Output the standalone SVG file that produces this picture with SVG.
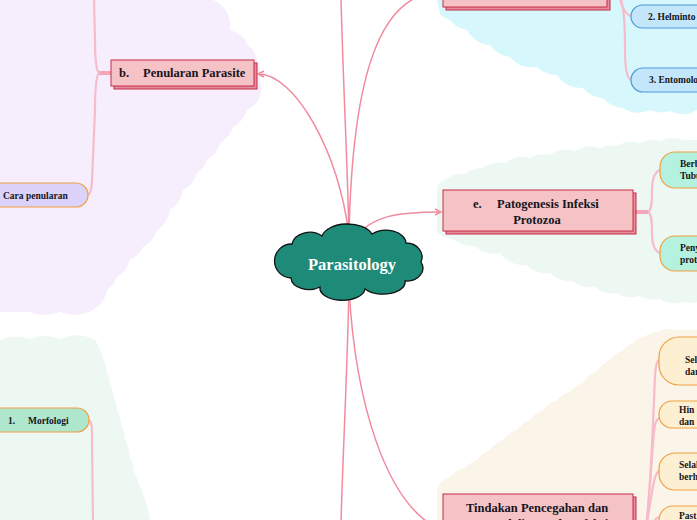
<svg xmlns="http://www.w3.org/2000/svg" width="697" height="520" viewBox="0 0 697 520">
<defs>
<style>
.bg{stroke:none}
.box{fill:#f5c3c5;stroke:#c72a46;stroke-width:1}
.shadow{fill:#e58d9b;stroke:#c72a46;stroke-width:1}
.main{fill:none;stroke:#f28a9e;stroke-width:1.5}
.stub{fill:none;stroke:#f4a6b6;stroke-width:4}
.br{fill:none;stroke:#f6bccb;stroke-width:2.2}
.t{font-family:"Liberation Serif","DejaVu Serif",serif;font-weight:bold;fill:#151520}
.bt{font-size:12.5px}
.pt{font-size:9.5px}
.orange{stroke:#f0a040;stroke-width:1.2}
</style>
<marker id="arr" viewBox="0 0 8 8" refX="7" refY="4" markerWidth="8" markerHeight="8" orient="auto" markerUnits="userSpaceOnUse">
<path d="M1,1 L7,4 L1,7" fill="none" stroke="#f28a9e" stroke-width="1.5"/>
</marker>
</defs>
<rect width="697" height="520" fill="#ffffff"/>

<g id="regions">
<path class="bg" fill="#f6eefc" d="M0,0 L213,0 A28,28 0 0 1 230,30 A28,28 0 0 1 248,45 A28,28 0 0 1 258,63 A28,28 0 0 1 260,80 A28,28 0 0 1 260,97 A28,28 0 0 1 247,110 A28,28 0 0 1 233,127 A28,28 0 0 1 220,143 A28,28 0 0 1 207,160 A28,28 0 0 1 197,173 A28,28 0 0 1 183,190 A28,28 0 0 1 170,210 A28,28 0 0 1 157,230 A28,28 0 0 1 143,247 A28,28 0 0 1 130,260 A28,28 0 0 1 117,277 A28,28 0 0 1 107,290 A28,28 0 0 1 93,310 A40,40 0 0 1 60,312 A40,40 0 0 1 30,312 L0,312 Z"/>
<path class="bg" fill="#d6f8fc" d="M437,0 L697,0 L697,110 A28,28 0 0 1 670,111 A28,28 0 0 1 650,110 A28,28 0 0 1 623,108 A28,28 0 0 1 603,98 A28,28 0 0 1 583,88 A28,28 0 0 1 557,75 A28,28 0 0 1 537,67 A28,28 0 0 1 510,57 A28,28 0 0 1 490,45 A28,28 0 0 1 467,30 A28,28 0 0 1 450,20 A28,28 0 0 1 440,14 L437,0 Z"/>
<path class="bg" fill="#eef8f3" d="M437,190 Q437,182 445,180 A28,28 0 0 1 465,174 A28,28 0 0 1 483,168 A28,28 0 0 1 505,163 A28,28 0 0 1 530,158 A28,28 0 0 1 550,155 A28,28 0 0 1 575,151 A28,28 0 0 1 600,148 A28,28 0 0 1 617,146 A28,28 0 0 1 640,143 A28,28 0 0 1 660,141 A28,28 0 0 1 683,140 L697,140 L697,302 A28,28 0 0 1 683,302 A28,28 0 0 1 660,299 A28,28 0 0 1 640,296 A28,28 0 0 1 617,293 A28,28 0 0 1 595,287 A28,28 0 0 1 573,281 A28,28 0 0 1 550,273 A28,28 0 0 1 527,265 A28,28 0 0 1 500,253 A28,28 0 0 1 475,246 A28,28 0 0 1 455,240 Q440,237 437,232 Z"/>
<path class="bg" fill="#faf5e8" d="M437,520 L437,490 Q438,482 450,477 A28,28 0 0 1 465,468 A28,28 0 0 1 477,460 A28,28 0 0 1 490,450 A28,28 0 0 1 503,440 A28,28 0 0 1 517,430 A28,28 0 0 1 530,420 A28,28 0 0 1 543,410 A28,28 0 0 1 557,400 A28,28 0 0 1 570,392 A28,28 0 0 1 583,383 A28,28 0 0 1 597,371 A28,28 0 0 1 610,360 A28,28 0 0 1 622,351 A28,28 0 0 1 633,343 A28,28 0 0 1 645,336 A28,28 0 0 1 657,332 A28,28 0 0 1 677,330 L697,330 L697,520 Z"/>
<path class="bg" fill="#eef8f3" d="M0,340 A40,40 0 0 1 30,339 A40,40 0 0 1 60,339 A40,40 0 0 1 95,340 A28,28 0 0 1 100,350 A28,28 0 0 1 103,360 A28,28 0 0 1 107,373 A28,28 0 0 1 110,385 A28,28 0 0 1 114,398 A28,28 0 0 1 117,410 A28,28 0 0 1 121,425 A28,28 0 0 1 125,440 A28,28 0 0 1 129,455 A28,28 0 0 1 133,470 A28,28 0 0 1 138,483 A28,28 0 0 1 143,495 A28,28 0 0 1 147,508 A28,28 0 0 1 150,520 L0,520 Z"/>
</g>

<g id="connectors">
<path class="main" d="M349,235 C347,150 343,80 341,-2"/>
<path class="main" d="M349,235 C352,90 375,-8 441,-8"/>
<path class="main" d="M349,235 C338,150 295,74 258,74" marker-end="url(#arr)"/>
<path class="main" d="M354,240 C370,215 400,212 441,212" marker-end="url(#arr)"/>
<path class="main" d="M349,288 C347,380 343,450 341,522"/>
<path class="main" d="M349,288 C355,400 385,505 441,530"/>
<path class="stub" d="M111,73 L99,73"/>
<path class="br" d="M99,73 C96,70 95,60 95,40 L94,-2"/>
<path class="br" d="M99,73 C96,76 95,90 95,110 L92,180 C92,189 91,193 88,195"/>
<path class="br" d="M618,-10 C621,5 624,14 631,16"/>
<path class="br" d="M618,-10 C624,5 625,20 625,50 C625,70 627,78 631,80"/>
<path class="stub" d="M633,212 L648,212"/>
<path class="br" d="M648,212 C652,210 652,200 652,190 C652,178 655,172 660,170"/>
<path class="br" d="M648,212 C652,214 652,224 652,234 C652,246 655,251 660,253"/>
<path class="br" d="M645,535 C650,500 652,450 654,400 C655,375 655,362 659,360"/>
<path class="br" d="M645,535 C650,500 652,450 654,432 C655,423 656,420 659,418"/>
<path class="br" d="M645,535 C650,505 652,490 654,482 C655,476 656,473 659,471"/>
<path class="br" d="M645,535 C650,525 655,519 659,517"/>
<path class="br" d="M89,420 C92,422 92,428 92,440 L93,522"/>
</g>

<g id="center">
<path d="M292,244 A18,14 0 0 1 322,236 A26,15 0 0 1 372,234 A20,13 0 0 1 406,243 A16,14 0 0 1 421,262 A16,13 0 0 1 405,281 A22,12 0 0 1 365,289 A22,12 0 0 1 320,287 A18,12 0 0 1 291,278 A17,17 0 0 1 292,244 Z" fill="#1e8a78" stroke="#111" stroke-width="1.3"/>
<text class="t" x="352" y="270" font-size="16.5" text-anchor="middle" fill="#ffffff" style="fill:#ffffff">Parasitology</text>
</g>

<g id="node-top">
<rect class="shadow" x="446" y="-27" width="164" height="37"/>
<rect class="box" x="443" y="-30" width="164" height="37"/>
</g>

<g id="node-b">
<rect class="shadow" x="114" y="63" width="143" height="26"/>
<rect class="box" x="111" y="60" width="143" height="26"/>
<text class="t bt" x="119" y="77">b.</text>
<text class="t bt" x="143" y="77">Penularan Parasite</text>
</g>

<g id="node-cara">
<rect x="-20" y="183" width="108" height="24" rx="12" fill="#dcd3fa" class="orange"/>
<text class="t pt" x="3" y="198.5">Cara penularan</text>
</g>

<g id="node-helminto">
<rect x="631" y="5" width="120" height="23" rx="11.5" fill="#c3e6fa" stroke="#4a98d8" stroke-width="1.2"/>
<text class="t pt" x="648" y="19.5">2. Helminto</text>
</g>

<g id="node-entomolo">
<rect x="631" y="68" width="120" height="24" rx="12" fill="#c3e6fa" stroke="#4a98d8" stroke-width="1.2"/>
<text class="t pt" x="649" y="83">3. Entomolo</text>
</g>

<g id="node-e">
<rect class="shadow" x="446" y="193" width="190" height="41"/>
<rect class="box" x="443" y="190" width="190" height="41"/>
<text class="t bt" x="473" y="208">e.</text>
<text class="t bt" x="497" y="208">Patogenesis Infeksi</text>
<text class="t bt" x="537" y="224" text-anchor="middle">Protozoa</text>
</g>

<g id="node-berb">
<rect x="660" y="152" width="100" height="36" rx="15" fill="#b5f1df" class="orange"/>
<text class="t pt" x="680" y="167">Berb</text>
<text class="t pt" x="680" y="179">Tubu</text>
</g>

<g id="node-peny">
<rect x="660" y="236" width="100" height="35" rx="15" fill="#b5f1df" class="orange"/>
<text class="t pt" x="680" y="251">Peny</text>
<text class="t pt" x="680" y="263">prot</text>
</g>

<g id="node-c1">
<rect x="659" y="337" width="100" height="48" rx="20" fill="#fdf0d2" class="orange"/>
<text class="t pt" x="685" y="363">Sel</text>
<text class="t pt" x="685" y="375">dar</text>
</g>

<g id="node-c2">
<rect x="659" y="401" width="100" height="27" rx="13" fill="#fdf0d2" class="orange"/>
<text class="t pt" x="679" y="413">Hin</text>
<text class="t pt" x="679" y="425">dan</text>
</g>

<g id="node-c3">
<rect x="659" y="453" width="100" height="37" rx="16" fill="#fdf0d2" class="orange"/>
<text class="t pt" x="679" y="468">Selal</text>
<text class="t pt" x="679" y="480">berh</text>
</g>

<g id="node-c4">
<rect x="659" y="506" width="100" height="30" rx="14" fill="#fdf0d2" class="orange"/>
<text class="t pt" x="679" y="519">Past</text>
</g>

<g id="node-tindakan">
<rect class="shadow" x="446" y="497" width="190" height="45"/>
<rect class="box" x="443" y="494" width="190" height="45"/>
<text class="t bt" x="537" y="512" text-anchor="middle">Tindakan Pencegahan dan</text>
<text class="t bt" x="537" y="528" text-anchor="middle">Pengendalian Pada Infeksi</text>
</g>

<g id="node-morfologi">
<rect x="-20" y="408" width="109" height="24" rx="12" fill="#aee7cd" class="orange"/>
<text class="t pt" x="8" y="423.5">1.</text>
<text class="t pt" x="28" y="423.5">Morfologi</text>
</g>
</svg>
